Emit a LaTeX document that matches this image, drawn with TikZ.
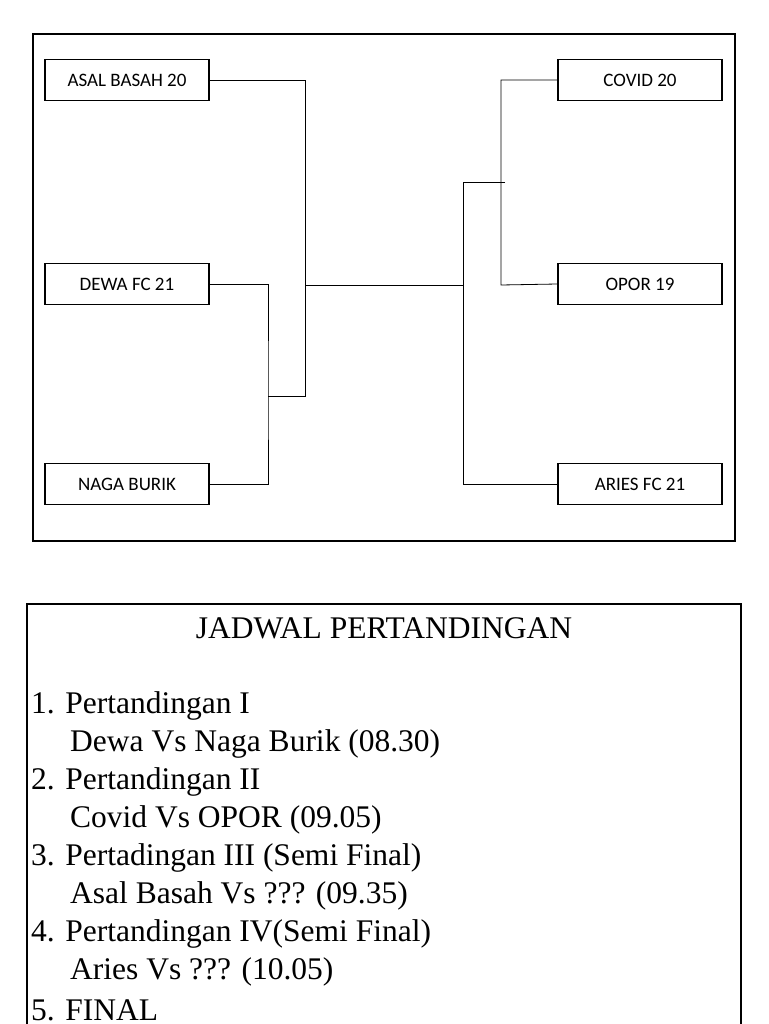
\documentclass[tikz,border=0pt]{standalone}
\usepackage{fontspec}
\setmainfont{Liberation Serif}
\newfontfamily\calfont{Carlito}
\begin{document}
\begin{tikzpicture}[x=1pt,y=-1pt,
 team/.style={draw,line width=1.2pt,minimum width=164pt,minimum height=41pt,font=\calfont\fontsize{19}{22}\selectfont},
 ln/.style={line width=0.8pt},
 li/.style={anchor=west,inner xsep=0pt,font=\fontsize{31.5}{36}\selectfont}]
\useasboundingbox (0,0) rectangle (768,1024);
\draw[line width=1.5pt] (33,34) rectangle (735,541);
\node[team] (a) at (127,80) {ASAL BASAH 20};
\node[team] (d) at (127,284) {DEWA FC 21};
\node[team] (n) at (127,484) {NAGA BURIK};
\node[team] (c) at (640,80) {COVID 20};
\node[team] (o) at (640,284) {OPOR 19};
\node[team] (r) at (640,484) {ARIES FC 21};
\coordinate (m1) at (268,396);
\coordinate (m2) at (305,285);
\coordinate (m3) at (463,285);
\coordinate (m4) at (505,182);
\draw[ln] (d.east) -| (m1) |- (n.east);
\draw[ln] (m1) -- (305,396) |- (a.east);
\draw[ln] (m2) -- (m3);
\draw[ln] (c.west) -| (501,285) -- (o.west);
\draw[ln] (m4) -- (463,182) |- (r.west);
\draw[line width=1.5pt] (27,1030) -- (27,604) -- (741,604) -- (741,1030);
\node[font=\fontsize{31.5}{36}\selectfont] (t) at (384,628) {JADWAL PERTANDINGAN};
\node[li] (l1) at (31,706) {1. Pertandingan I};
\node[li] (l1b) at (70,744) {Dewa Vs Naga Burik (08.30)};
\node[li] (l2) at (31,782) {2. Pertandingan II};
\node[li] (l2b) at (70,820) {Covid Vs OPOR (09.05)};
\node[li] (l3) at (31,858) {3. Pertadingan III (Semi Final)};
\node[li] (l3b) at (70,896) {Asal Basah Vs ??? (09.35)};
\node[li] (l4) at (31,934) {4. Pertandingan IV(Semi Final)};
\node[li] (l4b) at (70,972) {Aries Vs ??? (10.05)};
\node[li] (l5) at (31,1010) {5. FINAL};
\end{tikzpicture}
\end{document}
